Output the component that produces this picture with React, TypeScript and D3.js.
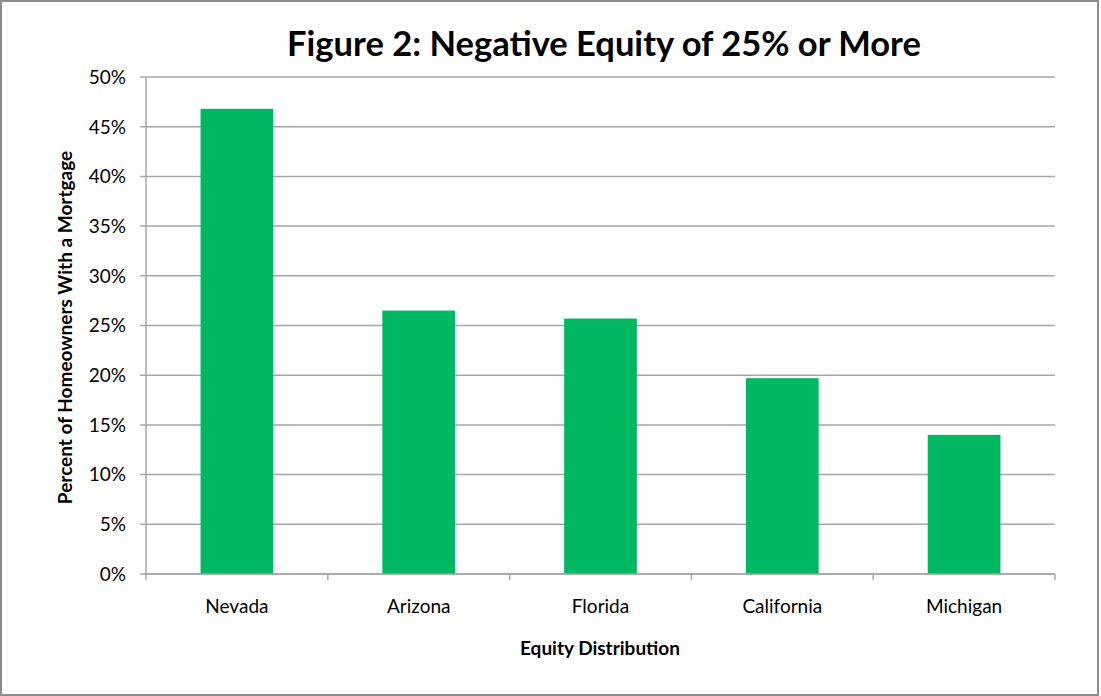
import React from "react";
import * as d3 from "d3";

const categories = ["Nevada", "Arizona", "Florida", "California", "Michigan"];
const values = [46.8, 26.5, 25.7, 19.7, 14.0];
const yTicks = [0, 5, 10, 15, 20, 25, 30, 35, 40, 45, 50];

const W = 1101;
const H = 696;
const M = { left: 146, right: 1055, top: 77, bottom: 574 };
const FONT = "Lato, 'Open Sans', sans-serif";

export default function App() {
  const x = d3
    .scaleBand<string>()
    .domain(categories)
    .range([M.left, M.right])
    .paddingInner(0.6)
    .paddingOuter(0.3);
  const step = (M.right - M.left) / categories.length;
  const y = d3.scaleLinear().domain([0, 50]).range([M.bottom, M.top]);
  const grid = "#a6a6a6";

  return (
    <svg
      width={W}
      height={H}
      style={{ position: "absolute", left: 0, top: 0, background: "#fff" }}
      fontFamily={FONT}
    >
      <rect x={1} y={1} width={1097} height={694} fill="#fff" stroke="#8c8c8c" strokeWidth={2} />
      <text x={604} y={56} textAnchor="middle" fontSize={34.5} fontWeight="bold" fill="#000">
        Figure 2: Negative Equity of 25% or More
      </text>
      {yTicks.map((t) => (
        <g key={t}>
          <line x1={M.left - 6} x2={M.right} y1={y(t)} y2={y(t)} stroke={grid} strokeWidth={1.5} />
          <text x={126} y={y(t)} dy="0.36em" textAnchor="end" fontSize={19} fill="#000">
            {t}%
          </text>
        </g>
      ))}
      {categories.map((c, i) => (
        <rect
          key={c}
          x={x(c)}
          y={y(values[i])}
          width={x.bandwidth()}
          height={y(0) - y(values[i])}
          fill="#00b862"
        />
      ))}
      <line x1={M.left} x2={M.left} y1={M.top} y2={M.bottom} stroke={grid} strokeWidth={1.5} />
      <line x1={M.left} x2={M.right} y1={M.bottom} y2={M.bottom} stroke={grid} strokeWidth={1.5} />
      {d3.range(categories.length + 1).map((i) => (
        <line
          key={i}
          x1={M.left + i * step}
          x2={M.left + i * step}
          y1={M.bottom}
          y2={M.bottom + 6}
          stroke={grid}
          strokeWidth={1.5}
        />
      ))}
      {categories.map((c) => (
        <text key={c} x={(x(c) || 0) + x.bandwidth() / 2} y={613} textAnchor="middle" fontSize={19} fill="#000">
          {c}
        </text>
      ))}
      <text x={600} y={655} textAnchor="middle" fontSize={19} fontWeight="bold" fill="#000">
        Equity Distribution
      </text>
      <text
        transform={`translate(72, ${(M.top + M.bottom) / 2 + 2}) rotate(-90)`}
        textAnchor="middle"
        fontSize={19}
        fontWeight="bold"
        fill="#000"
      >
        Percent of Homeowners With a Mortgage
      </text>
    </svg>
  );
}
